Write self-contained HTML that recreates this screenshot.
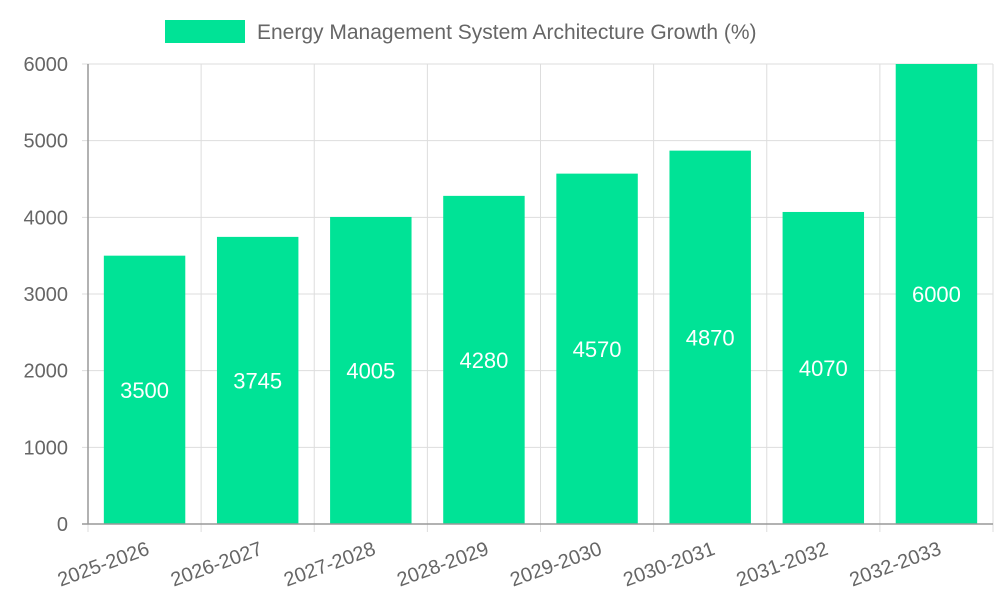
<!DOCTYPE html>
<html><head><meta charset="utf-8"><style>
html,body{margin:0;padding:0;background:#fff;}
svg{display:block;font-family:"Liberation Sans",sans-serif;}
</style></head><body>
<svg id="chart" width="1000" height="600">
<g id="grid"></g>
<g id="bars"></g>
<g id="axes"></g>
<g>
<rect x="165" y="20" width="80" height="23" fill="#00e396"/>
<text x="257" y="39" font-size="21" fill="#666">Energy Management System Architecture Growth (%)</text>
</g>
</svg>
<script>
const categories=["2025-2026","2026-2027","2027-2028","2028-2029","2029-2030","2030-2031","2031-2032","2032-2033"];
const values=[3500,3745,4005,4280,4570,4870,4070,6000];
const yTicks=[0,1000,2000,3000,4000,5000,6000];
const NS="http://www.w3.org/2000/svg";
const L=88,R=993,T=64,B=524,yMax=6000;
const bw=(R-L)/categories.length;
const y=v=>B-(v/yMax)*(B-T);
const x=i=>L+i*bw;
function mk(tag,attrs,parent,text){const e=document.createElementNS(NS,tag);for(const k in attrs)e.setAttribute(k,attrs[k]);if(text!==undefined)e.textContent=text;parent.appendChild(e);return e;}
const grid=document.getElementById('grid'),bars=document.getElementById('bars'),axes=document.getElementById('axes');
yTicks.forEach(t=>{
 const l=mk('line',{x1:L-6,x2:R,y1:y(t),y2:y(t),stroke:'#ddd','stroke-width':1},grid);
 
 
 const tx=mk('text',{x:L-20,y:y(t)+7,'text-anchor':'end','font-size':20,fill:'#666'},axes,String(t));
 
 
});
for(let i=0;i<=categories.length;i++){
 const l=mk('line',{x1:x(i),x2:x(i),y1:T,y2:B+8,stroke:'#ddd','stroke-width':1},grid);
 
 
}
categories.forEach((c,i)=>{
 const w=bw*0.72,bx=x(i)+(bw-w)/2,by=y(values[i]);
 const r=mk('rect',{x:bx,y:by,width:w,height:B-by,fill:'#00e396'},bars);
 
 
 const v=mk('text',{x:bx+w/2,y:(by+B)/2+8,'text-anchor':'middle','font-size':22,fill:'#fff'},bars,String(values[i]));
 
 
 const cx=x(i)+bw/2+6;
 const t=mk('text',{x:cx,y:B+30,'text-anchor':'end','font-size':20,fill:'#666',transform:`rotate(-20 ${cx} ${B+30})`},axes,c);
 
 
});
const ya=mk('line',{x1:L,x2:L,y1:T,y2:B,stroke:'#999','stroke-width':1.5},axes);


const xa=mk('line',{x1:L-6,x2:R,y1:B,y2:B,stroke:'#999','stroke-width':1.5},axes);


</script>
</body></html>
